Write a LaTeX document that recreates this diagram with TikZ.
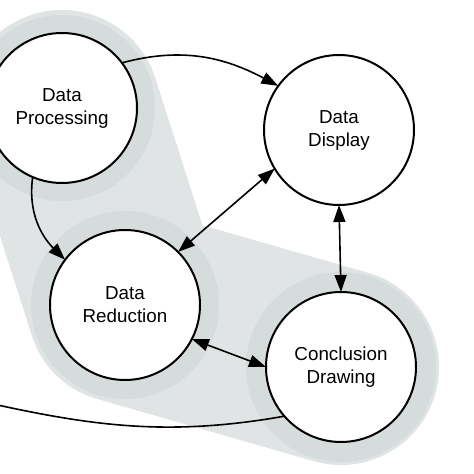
\documentclass[tikz,border=0pt]{standalone}
\usepackage{fontspec}
\setmainfont{Liberation Sans}
\usetikzlibrary{arrows.meta}
\definecolor{hullLight}{HTML}{E0E4E4}
\definecolor{hullDark}{HTML}{D6DBDB}
\tikzset{
  proc/.style={circle, draw=black, line width=2pt, fill=white, minimum size=150pt,
    inner sep=0pt, outer sep=0pt, align=center, font=\fontsize{18.8}{23}\selectfont},
  link/.style={line width=1.6pt, draw=black},
  tip/.style={-{Triangle[length=17pt,width=12pt]}},
  tips/.style={{Triangle[length=17pt,width=12pt]}-{Triangle[length=17pt,width=12pt]}},
  halo/.style={fill=hullDark, draw=none}
}
\begin{document}
\begin{tikzpicture}[x=1pt,y=1pt]
\path[use as bounding box] (0,0) rectangle (474,474);
\fill[white] (0,0) rectangle (474,474);
\clip (0,0) rectangle (474,474);
\coordinate (pDP) at (62,366);
\coordinate (pDD) at (339,344);
\coordinate (pDR) at (125,169);
\coordinate (pCD) at (341,107);
\coordinate (farL) at (-60,82);
% bubble hull
\draw[hullLight, line width=196pt, line cap=round, line join=round] (pDP) -- (pDR) -- (pCD);
\fill[halo] (pDP) circle (93);
\fill[halo] (pDR) circle (94);
\fill[halo] (pCD) circle (95);
% nodes
\node[proc] (DP) at (pDP) {Data\\Processing};
\node[proc] (DD) at (pDD) {Data\\Display};
\node[proc] (DR) at (pDR) {Data\\Reduction};
\node[proc] (CD) at (pCD) {Conclusion\\Drawing};
% connectors
\draw[link, tip] (DP.37) to[out=15, in=152] (DD.144);
\draw[link, tip] (DP.247) to[out=262, in=135] (DR.143);
\draw[link, tips] (DD.211) -- (DR.45);
\draw[link, tips] (DD.270) -- (CD.90);
\draw[link, tips] (DR.333) -- (CD.180);
\draw[link] (CD.221) to[out=190, in=-13] (farL);
\end{tikzpicture}
\end{document}
